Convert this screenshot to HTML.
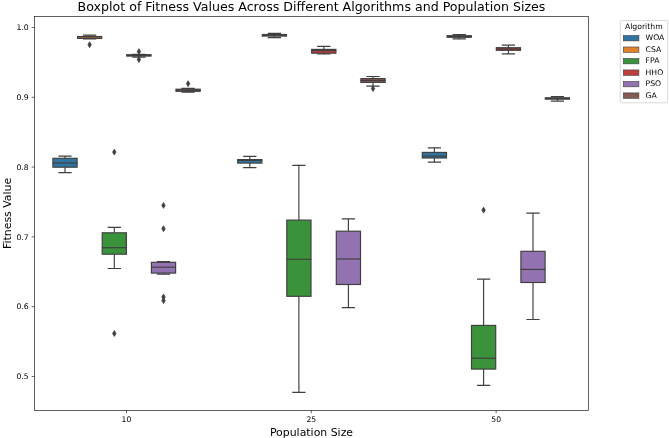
<!DOCTYPE html>
<html lang="en"><head><meta charset="utf-8"><title>Boxplot of Fitness Values</title>
<style>html,body{margin:0;padding:0;background:#fff}svg{display:block}</style></head>
<body>
<svg width="669" height="438" viewBox="0 0 669 438">
<rect x="0" y="0" width="669" height="438" fill="#fff"/>
<g><rect x="52.90" y="158.30" width="24.20" height="8.90" fill="#3274a1" stroke="#3f3f3f" stroke-width="1.16"/><path d="M65.00 158.30V156.15M65.00 167.20V172.70" stroke="#3f3f3f" stroke-width="1.16" fill="none"/><path d="M58.95 156.15H71.05M58.95 172.70H71.05" stroke="#3f3f3f" stroke-width="1.16" stroke-linecap="square" fill="none"/><path d="M52.60 163.00H77.40" stroke="#3f3f3f" stroke-width="1.16" fill="none"/></g>
<g><rect x="77.50" y="36.50" width="24.20" height="1.80" fill="#e1812c" stroke="#3f3f3f" stroke-width="1.16"/><path d="M89.60 36.50V35.10M89.60 38.30V39.00" stroke="#3f3f3f" stroke-width="1.16" fill="none"/><path d="M83.55 35.10H95.65M83.55 39.00H95.65" stroke="#3f3f3f" stroke-width="1.16" stroke-linecap="square" fill="none"/><path d="M77.20 38.30H102.00" stroke="#3f3f3f" stroke-width="1.16" fill="none"/><path d="M89.60 41.75L91.30 44.70L89.60 47.65L87.90 44.70Z" fill="#3f3f3f" stroke="#3f3f3f" stroke-width="0.77" stroke-linejoin="miter"/></g>
<g><rect x="102.20" y="232.80" width="24.20" height="21.40" fill="#3a923a" stroke="#3f3f3f" stroke-width="1.16"/><path d="M114.30 232.80V227.35M114.30 254.20V268.50" stroke="#3f3f3f" stroke-width="1.16" fill="none"/><path d="M108.25 227.35H120.35M108.25 268.50H120.35" stroke="#3f3f3f" stroke-width="1.16" stroke-linecap="square" fill="none"/><path d="M101.90 247.70H126.70" stroke="#3f3f3f" stroke-width="1.16" fill="none"/><path d="M114.30 149.15L116.00 152.10L114.30 155.05L112.60 152.10Z" fill="#3f3f3f" stroke="#3f3f3f" stroke-width="0.77" stroke-linejoin="miter"/><path d="M114.30 330.55L116.00 333.50L114.30 336.45L112.60 333.50Z" fill="#3f3f3f" stroke="#3f3f3f" stroke-width="0.77" stroke-linejoin="miter"/></g>
<g><rect x="126.80" y="54.70" width="24.20" height="1.40" fill="#c03d3e" stroke="#3f3f3f" stroke-width="1.16"/><path d="M138.90 54.70V54.30M138.90 56.10V57.20" stroke="#3f3f3f" stroke-width="1.16" fill="none"/><path d="M132.85 54.30H144.95M132.85 57.20H144.95" stroke="#3f3f3f" stroke-width="1.16" stroke-linecap="square" fill="none"/><path d="M126.50 55.40H151.30" stroke="#3f3f3f" stroke-width="1.16" fill="none"/><path d="M138.90 48.65L140.60 51.60L138.90 54.55L137.20 51.60Z" fill="#3f3f3f" stroke="#3f3f3f" stroke-width="0.77" stroke-linejoin="miter"/><path d="M138.90 56.65L140.60 59.60L138.90 62.55L137.20 59.60Z" fill="#3f3f3f" stroke="#3f3f3f" stroke-width="0.77" stroke-linejoin="miter"/></g>
<g><rect x="151.40" y="262.30" width="24.20" height="10.80" fill="#9372b2" stroke="#3f3f3f" stroke-width="1.16"/><path d="M163.50 262.30V261.60M163.50 273.10V274.10" stroke="#3f3f3f" stroke-width="1.16" fill="none"/><path d="M157.45 261.60H169.55M157.45 274.10H169.55" stroke="#3f3f3f" stroke-width="1.16" stroke-linecap="square" fill="none"/><path d="M151.10 267.20H175.90" stroke="#3f3f3f" stroke-width="1.16" fill="none"/><path d="M163.50 202.45L165.20 205.40L163.50 208.35L161.80 205.40Z" fill="#3f3f3f" stroke="#3f3f3f" stroke-width="0.77" stroke-linejoin="miter"/><path d="M163.50 225.75L165.20 228.70L163.50 231.65L161.80 228.70Z" fill="#3f3f3f" stroke="#3f3f3f" stroke-width="0.77" stroke-linejoin="miter"/><path d="M163.50 294.05L165.20 297.00L163.50 299.95L161.80 297.00Z" fill="#3f3f3f" stroke="#3f3f3f" stroke-width="0.77" stroke-linejoin="miter"/><path d="M163.50 297.65L165.20 300.60L163.50 303.55L161.80 300.60Z" fill="#3f3f3f" stroke="#3f3f3f" stroke-width="0.77" stroke-linejoin="miter"/></g>
<g><rect x="176.00" y="89.20" width="24.20" height="2.10" fill="#845b53" stroke="#3f3f3f" stroke-width="1.16"/><path d="M188.10 89.20V88.40M188.10 91.30V92.20" stroke="#3f3f3f" stroke-width="1.16" fill="none"/><path d="M182.05 88.40H194.15M182.05 92.20H194.15" stroke="#3f3f3f" stroke-width="1.16" stroke-linecap="square" fill="none"/><path d="M175.70 90.20H200.50" stroke="#3f3f3f" stroke-width="1.16" fill="none"/><path d="M188.10 80.75L189.80 83.70L188.10 86.65L186.40 83.70Z" fill="#3f3f3f" stroke="#3f3f3f" stroke-width="0.77" stroke-linejoin="miter"/></g>
<g><rect x="237.70" y="159.60" width="24.20" height="3.50" fill="#3274a1" stroke="#3f3f3f" stroke-width="1.16"/><path d="M249.80 159.60V156.30M249.80 163.10V167.60" stroke="#3f3f3f" stroke-width="1.16" fill="none"/><path d="M243.75 156.30H255.85M243.75 167.60H255.85" stroke="#3f3f3f" stroke-width="1.16" stroke-linecap="square" fill="none"/><path d="M237.40 160.40H262.20" stroke="#3f3f3f" stroke-width="1.16" fill="none"/></g>
<g><rect x="262.30" y="34.50" width="24.20" height="1.60" fill="#e1812c" stroke="#3f3f3f" stroke-width="1.16"/><path d="M274.40 34.50V33.40M274.40 36.10V37.60" stroke="#3f3f3f" stroke-width="1.16" fill="none"/><path d="M268.35 33.40H280.45M268.35 37.60H280.45" stroke="#3f3f3f" stroke-width="1.16" stroke-linecap="square" fill="none"/><path d="M262.00 35.30H286.80" stroke="#3f3f3f" stroke-width="1.16" fill="none"/></g>
<g><rect x="286.80" y="220.10" width="24.20" height="76.20" fill="#3a923a" stroke="#3f3f3f" stroke-width="1.16"/><path d="M298.90 220.10V165.30M298.90 296.30V392.40" stroke="#3f3f3f" stroke-width="1.16" fill="none"/><path d="M292.85 165.30H304.95M292.85 392.40H304.95" stroke="#3f3f3f" stroke-width="1.16" stroke-linecap="square" fill="none"/><path d="M286.50 259.30H311.30" stroke="#3f3f3f" stroke-width="1.16" fill="none"/></g>
<g><rect x="311.70" y="49.40" width="24.20" height="3.80" fill="#c03d3e" stroke="#3f3f3f" stroke-width="1.16"/><path d="M323.80 49.40V46.40M323.80 53.20V54.00" stroke="#3f3f3f" stroke-width="1.16" fill="none"/><path d="M317.75 46.40H329.85M317.75 54.00H329.85" stroke="#3f3f3f" stroke-width="1.16" stroke-linecap="square" fill="none"/><path d="M311.40 50.55H336.20" stroke="#3f3f3f" stroke-width="1.16" fill="none"/></g>
<g><rect x="336.30" y="231.20" width="24.20" height="53.30" fill="#9372b2" stroke="#3f3f3f" stroke-width="1.16"/><path d="M348.40 231.20V218.90M348.40 284.50V307.70" stroke="#3f3f3f" stroke-width="1.16" fill="none"/><path d="M342.35 218.90H354.45M342.35 307.70H354.45" stroke="#3f3f3f" stroke-width="1.16" stroke-linecap="square" fill="none"/><path d="M336.00 259.00H360.80" stroke="#3f3f3f" stroke-width="1.16" fill="none"/></g>
<g><rect x="360.90" y="78.60" width="24.20" height="3.80" fill="#845b53" stroke="#3f3f3f" stroke-width="1.16"/><path d="M373.00 78.60V76.50M373.00 82.40V86.20" stroke="#3f3f3f" stroke-width="1.16" fill="none"/><path d="M366.95 76.50H379.05M366.95 86.20H379.05" stroke="#3f3f3f" stroke-width="1.16" stroke-linecap="square" fill="none"/><path d="M360.60 80.50H385.40" stroke="#3f3f3f" stroke-width="1.16" fill="none"/><path d="M373.00 85.65L374.70 88.60L373.00 91.55L371.30 88.60Z" fill="#3f3f3f" stroke="#3f3f3f" stroke-width="0.77" stroke-linejoin="miter"/></g>
<g><rect x="422.30" y="152.40" width="24.20" height="5.60" fill="#3274a1" stroke="#3f3f3f" stroke-width="1.16"/><path d="M434.40 152.40V147.90M434.40 158.00V162.10" stroke="#3f3f3f" stroke-width="1.16" fill="none"/><path d="M428.35 147.90H440.45M428.35 162.10H440.45" stroke="#3f3f3f" stroke-width="1.16" stroke-linecap="square" fill="none"/><path d="M422.00 156.10H446.80" stroke="#3f3f3f" stroke-width="1.16" fill="none"/></g>
<g><rect x="447.10" y="35.70" width="24.20" height="1.60" fill="#e1812c" stroke="#3f3f3f" stroke-width="1.16"/><path d="M459.20 35.70V34.70M459.20 37.30V38.90" stroke="#3f3f3f" stroke-width="1.16" fill="none"/><path d="M453.15 34.70H465.25M453.15 38.90H465.25" stroke="#3f3f3f" stroke-width="1.16" stroke-linecap="square" fill="none"/><path d="M446.80 36.50H471.60" stroke="#3f3f3f" stroke-width="1.16" fill="none"/></g>
<g><rect x="471.50" y="325.40" width="24.20" height="43.70" fill="#3a923a" stroke="#3f3f3f" stroke-width="1.16"/><path d="M483.60 325.40V279.10M483.60 369.10V385.30" stroke="#3f3f3f" stroke-width="1.16" fill="none"/><path d="M477.55 279.10H489.65M477.55 385.30H489.65" stroke="#3f3f3f" stroke-width="1.16" stroke-linecap="square" fill="none"/><path d="M471.20 358.20H496.00" stroke="#3f3f3f" stroke-width="1.16" fill="none"/><path d="M483.60 207.15L485.30 210.10L483.60 213.05L481.90 210.10Z" fill="#3f3f3f" stroke="#3f3f3f" stroke-width="0.77" stroke-linejoin="miter"/></g>
<g><rect x="496.30" y="47.70" width="24.20" height="2.60" fill="#c03d3e" stroke="#3f3f3f" stroke-width="1.16"/><path d="M508.40 47.70V45.20M508.40 50.30V53.90" stroke="#3f3f3f" stroke-width="1.16" fill="none"/><path d="M502.35 45.20H514.45M502.35 53.90H514.45" stroke="#3f3f3f" stroke-width="1.16" stroke-linecap="square" fill="none"/><path d="M496.00 49.00H520.80" stroke="#3f3f3f" stroke-width="1.16" fill="none"/></g>
<g><rect x="520.90" y="251.30" width="24.20" height="31.20" fill="#9372b2" stroke="#3f3f3f" stroke-width="1.16"/><path d="M533.00 251.30V213.10M533.00 282.50V319.50" stroke="#3f3f3f" stroke-width="1.16" fill="none"/><path d="M526.95 213.10H539.05M526.95 319.50H539.05" stroke="#3f3f3f" stroke-width="1.16" stroke-linecap="square" fill="none"/><path d="M520.60 269.40H545.40" stroke="#3f3f3f" stroke-width="1.16" fill="none"/></g>
<g><rect x="545.30" y="97.80" width="24.20" height="1.35" fill="#845b53" stroke="#3f3f3f" stroke-width="1.16"/><path d="M557.40 97.80V96.60M557.40 99.15V101.10" stroke="#3f3f3f" stroke-width="1.16" fill="none"/><path d="M551.35 96.60H563.45M551.35 101.10H563.45" stroke="#3f3f3f" stroke-width="1.16" stroke-linecap="square" fill="none"/><path d="M545.00 98.50H569.80" stroke="#3f3f3f" stroke-width="1.16" fill="none"/></g>
<rect x="34.4" y="16.4" width="554.20" height="394.05" fill="none" stroke="#000" stroke-width="0.62"/>
<path d="M34.4 27.47h-2.7" stroke="#000" stroke-width="0.62"/>
<text x="28.70" y="30.12" font-size="7.7" text-anchor="end" font-family="DejaVu Sans, Liberation Sans, sans-serif" fill="#000">1.0</text>
<path d="M34.4 97.27h-2.7" stroke="#000" stroke-width="0.62"/>
<text x="28.70" y="99.92" font-size="7.7" text-anchor="end" font-family="DejaVu Sans, Liberation Sans, sans-serif" fill="#000">0.9</text>
<path d="M34.4 167.07h-2.7" stroke="#000" stroke-width="0.62"/>
<text x="28.70" y="169.72" font-size="7.7" text-anchor="end" font-family="DejaVu Sans, Liberation Sans, sans-serif" fill="#000">0.8</text>
<path d="M34.4 236.87h-2.7" stroke="#000" stroke-width="0.62"/>
<text x="28.70" y="239.52" font-size="7.7" text-anchor="end" font-family="DejaVu Sans, Liberation Sans, sans-serif" fill="#000">0.7</text>
<path d="M34.4 306.67h-2.7" stroke="#000" stroke-width="0.62"/>
<text x="28.70" y="309.32" font-size="7.7" text-anchor="end" font-family="DejaVu Sans, Liberation Sans, sans-serif" fill="#000">0.6</text>
<path d="M34.4 376.47h-2.7" stroke="#000" stroke-width="0.62"/>
<text x="28.70" y="379.12" font-size="7.7" text-anchor="end" font-family="DejaVu Sans, Liberation Sans, sans-serif" fill="#000">0.5</text>
<path d="M126.5 410.45v2.7" stroke="#000" stroke-width="0.62"/>
<text x="126.5" y="421.75" font-size="7.7" text-anchor="middle" font-family="DejaVu Sans, Liberation Sans, sans-serif" fill="#000">10</text>
<path d="M311.3 410.45v2.7" stroke="#000" stroke-width="0.62"/>
<text x="311.3" y="421.75" font-size="7.7" text-anchor="middle" font-family="DejaVu Sans, Liberation Sans, sans-serif" fill="#000">25</text>
<path d="M496.15 410.45v2.7" stroke="#000" stroke-width="0.62"/>
<text x="496.15" y="421.75" font-size="7.7" text-anchor="middle" font-family="DejaVu Sans, Liberation Sans, sans-serif" fill="#000">50</text>
<text x="311.50" y="11.15" font-size="12.61" text-anchor="middle" font-family="DejaVu Sans, Liberation Sans, sans-serif" fill="#000">Boxplot of Fitness Values Across Different Algorithms and Population Sizes</text>
<text x="311.50" y="435.6" font-size="10.92" text-anchor="middle" font-family="DejaVu Sans, Liberation Sans, sans-serif" fill="#000">Population Size</text>
<text transform="translate(11.0 213.42) rotate(-90)" font-size="10.92" text-anchor="middle" font-family="DejaVu Sans, Liberation Sans, sans-serif" fill="#000">Fitness Value</text>
<rect x="620.3" y="20.5" width="47.4" height="82.3" rx="1.5" ry="1.5" fill="#fff" fill-opacity="0.8" stroke="#ccc" stroke-width="0.77"/>
<text x="643.8" y="29.0" font-size="7.7" text-anchor="middle" font-family="DejaVu Sans, Liberation Sans, sans-serif" fill="#000">Algorithm</text>
<rect x="623.3" y="35.50" width="15.6" height="5.4" fill="#3274a1" stroke="#3f3f3f" stroke-width="0.6"/>
<text x="645.6" y="40.35" font-size="7.7" font-family="DejaVu Sans, Liberation Sans, sans-serif" fill="#000">WOA</text>
<rect x="623.3" y="46.98" width="15.6" height="5.4" fill="#e1812c" stroke="#3f3f3f" stroke-width="0.6"/>
<text x="645.6" y="51.83" font-size="7.7" font-family="DejaVu Sans, Liberation Sans, sans-serif" fill="#000">CSA</text>
<rect x="623.3" y="58.46" width="15.6" height="5.4" fill="#3a923a" stroke="#3f3f3f" stroke-width="0.6"/>
<text x="645.6" y="63.31" font-size="7.7" font-family="DejaVu Sans, Liberation Sans, sans-serif" fill="#000">FPA</text>
<rect x="623.3" y="69.94" width="15.6" height="5.4" fill="#c03d3e" stroke="#3f3f3f" stroke-width="0.6"/>
<text x="645.6" y="74.79" font-size="7.7" font-family="DejaVu Sans, Liberation Sans, sans-serif" fill="#000">HHO</text>
<rect x="623.3" y="81.42" width="15.6" height="5.4" fill="#9372b2" stroke="#3f3f3f" stroke-width="0.6"/>
<text x="645.6" y="86.27" font-size="7.7" font-family="DejaVu Sans, Liberation Sans, sans-serif" fill="#000">PSO</text>
<rect x="623.3" y="92.90" width="15.6" height="5.4" fill="#845b53" stroke="#3f3f3f" stroke-width="0.6"/>
<text x="645.6" y="97.75" font-size="7.7" font-family="DejaVu Sans, Liberation Sans, sans-serif" fill="#000">GA</text>
</svg>
</body></html>
